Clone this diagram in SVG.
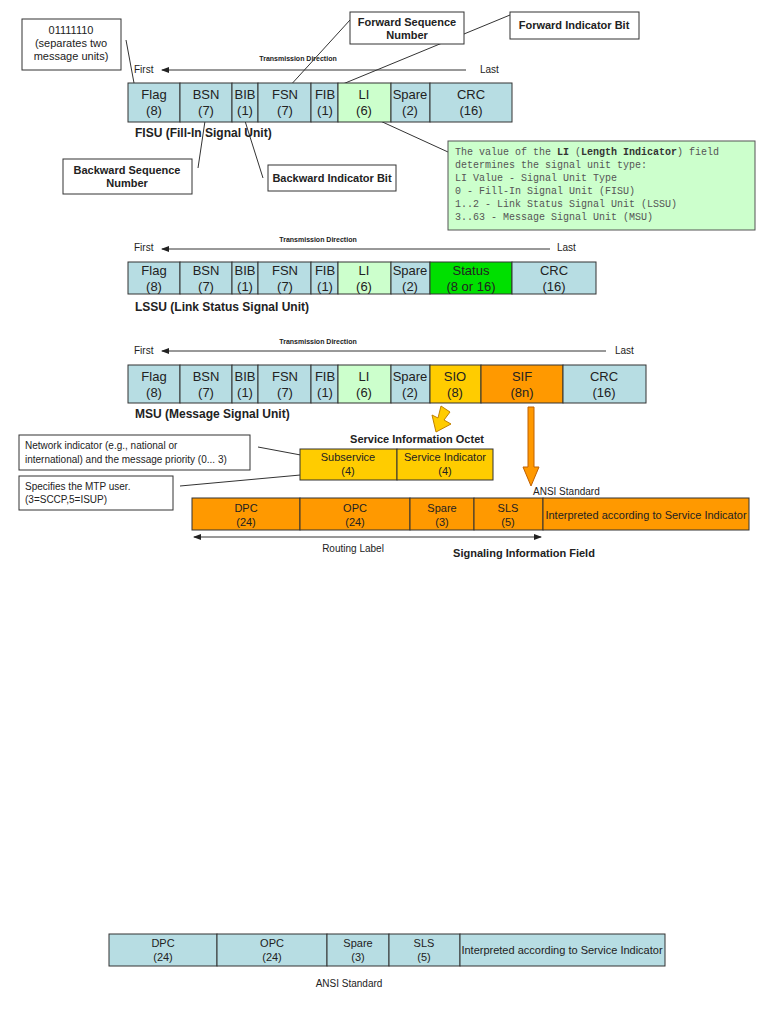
<svg xmlns="http://www.w3.org/2000/svg" width="768" height="1024" viewBox="0 0 768 1024">
<style>
text{font-family:"Liberation Sans",Arial,sans-serif;fill:#222}
.c{font-size:13px;text-anchor:middle}
.s{font-size:11px;text-anchor:middle}
.b{font-size:11px;font-weight:bold;text-anchor:middle}
.t{font-size:12px;font-weight:bold}
.sm{font-size:7px;font-weight:bold;text-anchor:middle}
.d{font-size:10px}
.m{font-family:"Liberation Mono",monospace;font-size:10px;fill:#555}
.bl{fill:#b7dde3;stroke:#333;stroke-width:1}
.lg{fill:#ccffcc;stroke:#333;stroke-width:1}
.gr{fill:#00e000;stroke:#333;stroke-width:1}
.ye{fill:#ffcc00;stroke:#333;stroke-width:1}
.or{fill:#ff9900;stroke:#333;stroke-width:1}
.bx{fill:#fff;stroke:#333;stroke-width:1}
.ln{stroke:#333;stroke-width:1;fill:none}
</style>
<defs><marker id="ah" markerWidth="8" markerHeight="8" refX="7" refY="4" orient="auto-start-reverse"><path d="M0,1 L8,4 L0,7 z" fill="#222"/></marker></defs>
<g id="connectors">
<line class="ln" x1="126" y1="40" x2="134" y2="83"/>
<line class="ln" x1="288" y1="88" x2="350" y2="20"/>
<line class="ln" x1="338" y1="86" x2="510" y2="15"/>
<line class="ln" x1="205" y1="121" x2="198" y2="168"/>
<line class="ln" x1="245" y1="121" x2="263" y2="178"/>
<line class="ln" x1="365" y1="114" x2="448" y2="152"/>
<line class="ln" x1="258" y1="447" x2="306" y2="456"/>
<line class="ln" x1="180" y1="486" x2="410" y2="465"/>
<line class="ln" x1="466" y1="70" x2="162" y2="70" marker-end="url(#ah)"/>
<line class="ln" x1="550" y1="249" x2="162" y2="249" marker-end="url(#ah)"/>
<line class="ln" x1="606" y1="351" x2="162" y2="351" marker-end="url(#ah)"/>
<line class="ln" x1="194" y1="537" x2="541" y2="537" marker-start="url(#ah)" marker-end="url(#ah)"/>
<path d="M441,406 L450,412 L444,420 L451,424 L436,432 L432,415 L438,418 z" fill="#ffcc00" stroke="#c08000"/>
<path d="M528,407 L534,407 L534,467 L539,467 L531,486 L523,467 L528,467 z" fill="#ff9900" stroke="#c06000"/>
</g>
<g id="fisu">
<text class="sm" x="298" y="61">Transmission Direction</text>
<text class="d" x="134" y="73">First</text><text class="d" x="480" y="73">Last</text>
<rect class="bl" x="128" y="83" width="52" height="39"/><text class="c" x="154" y="99">Flag</text><text class="c" x="154" y="115">(8)</text>
<rect class="bl" x="180" y="83" width="52" height="39"/><text class="c" x="206" y="99">BSN</text><text class="c" x="206" y="115">(7)</text>
<rect class="bl" x="232" y="83" width="26" height="39"/><text class="c" x="245" y="99">BIB</text><text class="c" x="245" y="115">(1)</text>
<rect class="bl" x="258" y="83" width="53" height="39"/><text class="c" x="285" y="99">FSN</text><text class="c" x="285" y="115">(7)</text>
<rect class="bl" x="311" y="83" width="27" height="39"/><text class="c" x="325" y="99">FIB</text><text class="c" x="325" y="115">(1)</text>
<rect class="lg" x="338" y="83" width="53" height="39"/><text class="c" x="364" y="99">LI</text><text class="c" x="364" y="115">(6)</text>
<rect class="bl" x="391" y="83" width="39" height="39"/><text class="c" x="410" y="99">Spare</text><text class="c" x="410" y="115">(2)</text>
<rect class="bl" x="430" y="83" width="82" height="39"/><text class="c" x="471" y="99">CRC</text><text class="c" x="471" y="115">(16)</text>
<text class="t" x="135" y="137">FISU (Fill-In Signal Unit)</text>
</g>
<g id="callouts">
<rect class="bx" x="22" y="19" width="99" height="51"/>
<text class="s" x="71" y="34">01111110</text><text class="s" x="71" y="47">(separates two</text><text class="s" x="71" y="60">message units)</text>
<rect class="bx" x="350" y="12" width="114" height="32"/><text class="b" x="407" y="26">Forward Sequence</text><text class="b" x="407" y="39">Number</text>
<rect class="bx" x="510" y="12" width="129" height="27"/><text class="b" x="574" y="29">Forward Indicator Bit</text>
<rect class="bx" x="63" y="159" width="129" height="35"/><text class="b" x="127" y="174">Backward Sequence</text><text class="b" x="127" y="187">Number</text>
<rect class="bx" x="268" y="165" width="128" height="26"/><text class="b" x="332" y="182">Backward Indicator Bit</text>
<rect x="448" y="141" width="307" height="89" fill="#ccffcc" stroke="#555"/>
<text class="m" x="455" y="155">The value of the <tspan font-weight="bold" fill="#333">LI</tspan> (<tspan font-weight="bold" fill="#333">Length Indicator</tspan>) field</text>
<text class="m" x="455" y="168">determines the signal unit type:</text>
<text class="m" x="455" y="181">LI Value - Signal Unit Type</text>
<text class="m" x="455" y="194">0        - Fill-In Signal Unit (FISU)</text>
<text class="m" x="455" y="207">1..2     - Link Status Signal Unit (LSSU)</text>
<text class="m" x="455" y="220">3..63    - Message Signal Unit (MSU)</text>
</g>
<g id="lssu">
<text class="sm" x="318" y="242">Transmission Direction</text>
<text class="d" x="134" y="251">First</text><text class="d" x="557" y="251">Last</text>
<rect class="bl" x="128" y="262" width="52" height="32"/><text class="c" x="154" y="275">Flag</text><text class="c" x="154" y="291">(8)</text>
<rect class="bl" x="180" y="262" width="52" height="32"/><text class="c" x="206" y="275">BSN</text><text class="c" x="206" y="291">(7)</text>
<rect class="bl" x="232" y="262" width="26" height="32"/><text class="c" x="245" y="275">BIB</text><text class="c" x="245" y="291">(1)</text>
<rect class="bl" x="258" y="262" width="53" height="32"/><text class="c" x="285" y="275">FSN</text><text class="c" x="285" y="291">(7)</text>
<rect class="bl" x="311" y="262" width="27" height="32"/><text class="c" x="325" y="275">FIB</text><text class="c" x="325" y="291">(1)</text>
<rect class="lg" x="338" y="262" width="53" height="32"/><text class="c" x="364" y="275">LI</text><text class="c" x="364" y="291">(6)</text>
<rect class="bl" x="391" y="262" width="39" height="32"/><text class="c" x="410" y="275">Spare</text><text class="c" x="410" y="291">(2)</text>
<rect class="gr" x="430" y="262" width="82" height="32"/><text class="c" x="471" y="275">Status</text><text class="c" x="471" y="291">(8 or 16)</text>
<rect class="bl" x="512" y="262" width="84" height="32"/><text class="c" x="554" y="275">CRC</text><text class="c" x="554" y="291">(16)</text>
<text class="t" x="135" y="311">LSSU (Link Status Signal Unit)</text>
</g>
<g id="msu">
<text class="sm" x="318" y="344">Transmission Direction</text>
<text class="d" x="134" y="354">First</text><text class="d" x="615" y="354">Last</text>
<rect class="bl" x="128" y="365" width="52" height="38"/><text class="c" x="154" y="381">Flag</text><text class="c" x="154" y="397">(8)</text>
<rect class="bl" x="180" y="365" width="52" height="38"/><text class="c" x="206" y="381">BSN</text><text class="c" x="206" y="397">(7)</text>
<rect class="bl" x="232" y="365" width="26" height="38"/><text class="c" x="245" y="381">BIB</text><text class="c" x="245" y="397">(1)</text>
<rect class="bl" x="258" y="365" width="53" height="38"/><text class="c" x="285" y="381">FSN</text><text class="c" x="285" y="397">(7)</text>
<rect class="bl" x="311" y="365" width="27" height="38"/><text class="c" x="325" y="381">FIB</text><text class="c" x="325" y="397">(1)</text>
<rect class="lg" x="338" y="365" width="53" height="38"/><text class="c" x="364" y="381">LI</text><text class="c" x="364" y="397">(6)</text>
<rect class="bl" x="391" y="365" width="39" height="38"/><text class="c" x="410" y="381">Spare</text><text class="c" x="410" y="397">(2)</text>
<rect class="ye" x="430" y="365" width="51" height="38"/><text class="c" x="455" y="381">SIO</text><text class="c" x="455" y="397">(8)</text>
<rect class="or" x="481" y="365" width="82" height="38"/><text class="c" x="522" y="381">SIF</text><text class="c" x="522" y="397">(8n)</text>
<rect class="bl" x="563" y="365" width="83" height="38"/><text class="c" x="604" y="381">CRC</text><text class="c" x="604" y="397">(16)</text>
<text class="t" x="135" y="418">MSU (Message Signal Unit)</text>
</g>
<g id="sio">
<text class="b" x="417" y="443">Service Information Octet</text>
<rect class="ye" x="300" y="449" width="97" height="31"/><text class="s" x="348" y="461">Subservice</text><text class="s" x="348" y="475">(4)</text>
<rect class="ye" x="397" y="449" width="96" height="31"/><text class="s" x="445" y="461">Service Indicator</text><text class="s" x="445" y="475">(4)</text>
<rect class="bx" x="19" y="435" width="231" height="35"/>
<text class="d" x="25" y="449">Network indicator (e.g., national or</text>
<text class="d" x="25" y="463">international) and the message priority (0... 3)</text>
<rect class="bx" x="19" y="476" width="154" height="34"/>
<text class="d" x="25" y="490">Specifies the MTP user.</text>
<text class="d" x="25" y="503">(3=SCCP,5=ISUP)</text>
</g>
<g id="sif">
<text class="d" x="533" y="495">ANSI Standard</text>
<rect class="or" x="192" y="498" width="108" height="32"/><text class="s" x="246" y="512">DPC</text><text class="s" x="246" y="526">(24)</text>
<rect class="or" x="300" y="498" width="110" height="32"/><text class="s" x="355" y="512">OPC</text><text class="s" x="355" y="526">(24)</text>
<rect class="or" x="410" y="498" width="64" height="32"/><text class="s" x="442" y="512">Spare</text><text class="s" x="442" y="526">(3)</text>
<rect class="or" x="474" y="498" width="69" height="32"/><text class="s" x="508" y="512">SLS</text><text class="s" x="508" y="526">(5)</text>
<rect class="or" x="543" y="498" width="206" height="32"/><text class="s" x="646" y="519">Interpreted according to Service Indicator</text>
<text class="d" x="353" y="552" text-anchor="middle">Routing Label</text>
<text class="b" x="524" y="557">Signaling Information Field</text>
</g>
<g id="ansi">
<rect class="bl" x="109" y="934" width="108" height="32"/><text class="s" x="163" y="947">DPC</text><text class="s" x="163" y="961">(24)</text>
<rect class="bl" x="217" y="934" width="110" height="32"/><text class="s" x="272" y="947">OPC</text><text class="s" x="272" y="961">(24)</text>
<rect class="bl" x="327" y="934" width="62" height="32"/><text class="s" x="358" y="947">Spare</text><text class="s" x="358" y="961">(3)</text>
<rect class="bl" x="389" y="934" width="71" height="32"/><text class="s" x="424" y="947">SLS</text><text class="s" x="424" y="961">(5)</text>
<rect class="bl" x="460" y="934" width="205" height="32"/><text class="s" x="562" y="954">Interpreted according to Service Indicator</text>
<text class="d" x="349" y="987" text-anchor="middle">ANSI Standard</text>
</g>
</svg>
